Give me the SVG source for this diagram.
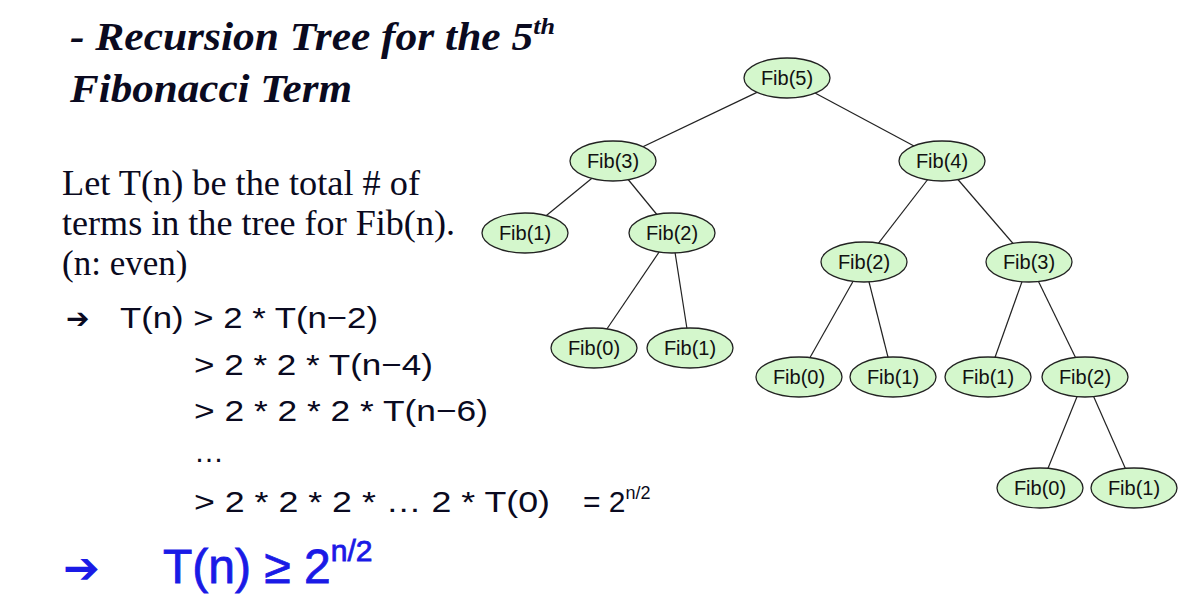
<svg xmlns="http://www.w3.org/2000/svg" width="1194" height="614" viewBox="0 0 1194 614">
<style>
.n ellipse{fill:#d4f7cc;stroke:#222;stroke-width:1.3}
.n text{font-family:"Liberation Sans",Arial,sans-serif;font-size:20px;text-anchor:middle;fill:#111}
.e line{stroke:#222;stroke-width:1.2}
.t{font-family:"Liberation Serif","Times New Roman",serif;font-size:35px;fill:#0a0a20}
.h{font-family:"Liberation Serif","Times New Roman",serif;font-size:40px;font-weight:bold;font-style:italic;fill:#0a0a20}
.f{font-family:"Liberation Sans",Arial,sans-serif;font-size:30px;fill:#0a0a20}
</style>
<rect width="1194" height="614" fill="#fff"/>
<text class="h" x="70" y="50" textLength="485" lengthAdjust="spacingAndGlyphs">- Recursion Tree for the 5<tspan font-size="24" dy="-16">th</tspan></text>
<text class="h" x="70" y="102" textLength="282" lengthAdjust="spacingAndGlyphs">Fibonacci Term</text>
<text class="t" x="62" y="195" textLength="358" lengthAdjust="spacingAndGlyphs">Let T(n) be the total # of</text>
<text class="t" x="62" y="235" textLength="393" lengthAdjust="spacingAndGlyphs">terms in the tree for Fib(n).</text>
<text class="t" x="62" y="275">(n: even)</text>
<text x="66" y="328" font-family="DejaVu Sans" font-size="28" fill="#0a0a20">➔</text>
<text class="f" x="120" y="328" textLength="258" lengthAdjust="spacingAndGlyphs">T(n) &gt; 2 * T(n−2)</text>
<text class="f" x="194" y="375" textLength="239" lengthAdjust="spacingAndGlyphs">&gt; 2 * 2 * T(n−4)</text>
<text class="f" x="194" y="421" textLength="294" lengthAdjust="spacingAndGlyphs">&gt; 2 * 2 * 2 * T(n−6)</text>
<text class="f" x="194" y="462">…</text>
<text class="f" x="194" y="512" textLength="356" lengthAdjust="spacingAndGlyphs">&gt; 2 * 2 * 2 * … 2 * T(0)</text>
<text class="f" x="583" y="512">= 2<tspan font-size="18" dy="-13">n/2</tspan></text>
<text x="63" y="583" font-family="DejaVu Sans" font-size="44" fill="#1a1ae6">➔</text>
<text x="163" y="583" font-family="Liberation Sans, Arial, sans-serif" font-size="48" fill="#1a1ae6" stroke="#1a1ae6" stroke-width="0.8">T(n) ≥ 2<tspan font-size="30" dy="-22">n/2</tspan></text>
<g class="e">
<line x1="787" y1="78" x2="613" y2="161"/><line x1="787" y1="78" x2="942" y2="161"/>
<line x1="613" y1="161" x2="525" y2="233"/><line x1="613" y1="161" x2="672" y2="233"/>
<line x1="672" y1="233" x2="594" y2="348"/><line x1="672" y1="233" x2="690" y2="348"/>
<line x1="942" y1="161" x2="864" y2="262"/><line x1="942" y1="161" x2="1029" y2="262"/>
<line x1="864" y1="262" x2="799" y2="377"/><line x1="864" y1="262" x2="893" y2="377"/>
<line x1="1029" y1="262" x2="988" y2="377"/><line x1="1029" y1="262" x2="1085" y2="377"/>
<line x1="1085" y1="377" x2="1040" y2="488"/><line x1="1085" y1="377" x2="1134" y2="488"/>
</g>
<g id="f5" class="n"><ellipse cx="787" cy="78" rx="43" ry="20"/><text x="787" y="85">Fib(5)</text></g>
<g id="f3a" class="n"><ellipse cx="613" cy="161" rx="43" ry="20"/><text x="613" y="168">Fib(3)</text></g>
<g id="f4" class="n"><ellipse cx="942" cy="161" rx="43" ry="20"/><text x="942" y="168">Fib(4)</text></g>
<g id="f1a" class="n"><ellipse cx="525" cy="233" rx="43" ry="20"/><text x="525" y="240">Fib(1)</text></g>
<g id="f2a" class="n"><ellipse cx="672" cy="233" rx="43" ry="20"/><text x="672" y="240">Fib(2)</text></g>
<g id="f2b" class="n"><ellipse cx="864" cy="262" rx="43" ry="20"/><text x="864" y="269">Fib(2)</text></g>
<g id="f3b" class="n"><ellipse cx="1029" cy="262" rx="43" ry="20"/><text x="1029" y="269">Fib(3)</text></g>
<g id="f0a" class="n"><ellipse cx="594" cy="348" rx="43" ry="20"/><text x="594" y="355">Fib(0)</text></g>
<g id="f1b" class="n"><ellipse cx="690" cy="348" rx="43" ry="20"/><text x="690" y="355">Fib(1)</text></g>
<g id="f0b" class="n"><ellipse cx="799" cy="377" rx="43" ry="20"/><text x="799" y="384">Fib(0)</text></g>
<g id="f1c" class="n"><ellipse cx="893" cy="377" rx="43" ry="20"/><text x="893" y="384">Fib(1)</text></g>
<g id="f1d" class="n"><ellipse cx="988" cy="377" rx="43" ry="20"/><text x="988" y="384">Fib(1)</text></g>
<g id="f2c" class="n"><ellipse cx="1085" cy="377" rx="43" ry="20"/><text x="1085" y="384">Fib(2)</text></g>
<g id="f0c" class="n"><ellipse cx="1040" cy="488" rx="43" ry="20"/><text x="1040" y="495">Fib(0)</text></g>
<g id="f1e" class="n"><ellipse cx="1134" cy="488" rx="43" ry="20"/><text x="1134" y="495">Fib(1)</text></g>
</svg>
